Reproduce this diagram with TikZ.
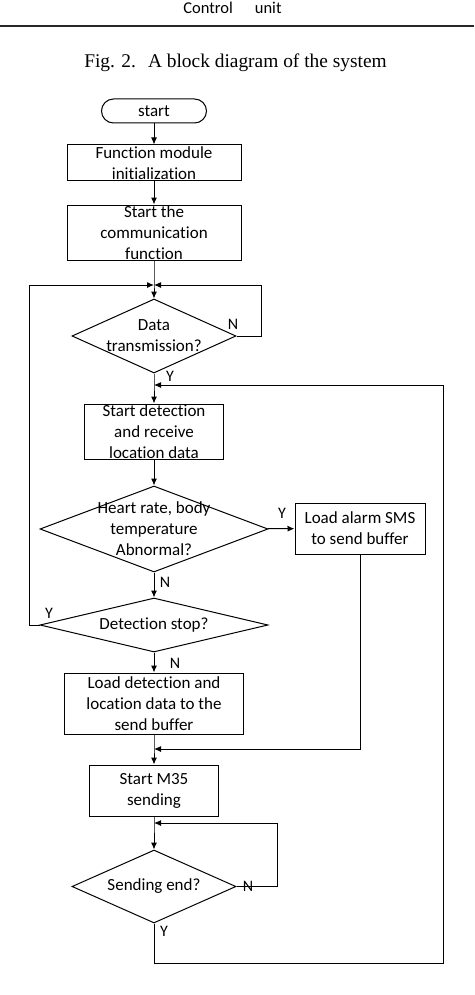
\documentclass[tikz,border=0pt]{standalone}
\usepackage{fontspec}
\setmainfont{Carlito}[Ligatures=NoCommon]
\newfontfamily\capfont{Liberation Serif}
\usetikzlibrary{shapes.geometric,arrows.meta}

\begin{document}
\begin{tikzpicture}[x=1pt,y=-1pt,
    blok/.style={draw,line width=1pt,inner sep=0pt},
    ruit/.style={draw,diamond,line width=1pt,inner sep=0pt},
    tekst/.style={align=center,inner sep=0pt,font=\fontsize{17}{21}\selectfont},
    lijn/.style={line width=1pt},
    pijl/.style={lijn,-{Latex[length=7pt,width=6pt]}},
    jn/.style={inner sep=0pt,font=\fontsize{16}{16}\selectfont}]
    \useasboundingbox (0,0) rectangle (474,995);
    % kop
    \node[font=\fontsize{16.5}{20}\selectfont] (ctrl) at (232.5,8) {Control\hspace{22pt}unit};
    \draw[line width=1.4pt,black!85] (0,26) -- (474,26);
    \node[font=\capfont\fontsize{19.4}{22}\selectfont] (cap) at (235.5,63) {Fig. 2.\hspace{12pt}A block diagram of the system};
    % blokken
    \node[blok,rounded corners=12pt,minimum width=105pt,minimum height=24pt,
        label={[tekst]center:start}] (start) at (154,111) {};
    \node[blok,minimum width=174pt,minimum height=36pt,
        label={[tekst]center:Function module\\initialization}] (init) at (154,163) {};
    \node[blok,minimum width=174pt,minimum height=55pt,
        label={[tekst]center:Start the\\communication\\function}] (comm) at (154,232.5) {};
    \node[ruit,minimum width=164pt,minimum height=74pt,
        label={[tekst]center:Data\\transmission?}] (data) at (154,336) {};
    \node[blok,minimum width=139pt,minimum height=55pt,
        label={[tekst]center:Start detection\\and receive\\location data}] (detect) at (154,431.5) {};
    \node[ruit,minimum width=228pt,minimum height=86pt,
        label={[tekst]center:Heart rate, body\\temperature\\Abnormal?}] (abn) at (154,529) {};
    \node[blok,minimum width=130pt,minimum height=51pt,
        label={[tekst]center:Load alarm SMS\\to send buffer}] (alarm) at (360,528.5) {};
    \node[ruit,minimum width=228pt,minimum height=54pt,
        label={[tekst]center:Detection stop?}] (stop) at (154,625) {};
    \node[blok,minimum width=179pt,minimum height=61pt,
        label={[tekst]center:Load detection and\\location data to the\\send buffer}] (load) at (154,703.5) {};
    \node[blok,minimum width=129pt,minimum height=51pt,
        label={[tekst]center:Start M35\\sending}] (m35) at (154,790.5) {};
    \node[ruit,minimum width=164pt,minimum height=73pt,
        label={[tekst]center:Sending end?}] (send) at (154,886.5) {};
    % knooppunten
    \coordinate (k1) at (154,285);
    \coordinate (k2) at (154,385);
    \coordinate (k3) at (154,749);
    \coordinate (k4) at (154,823);
    % pijlen
    \draw[pijl] (start) -- (init);
    \draw[pijl] (init) -- (comm);
    \draw[pijl] (comm.south) -- (k1) -- (data.north);
    \draw[pijl] (data.south) -- (k2) -- (detect.north);
    \draw[pijl] (detect) -- (abn);
    \draw[pijl] (abn) -- (alarm);
    \draw[pijl] (abn) -- (stop);
    \draw[pijl] (stop) -- (load);
    \draw[pijl] (load.south) -- (k3) -- (m35.north);
    \draw[pijl] (m35.south) -- (k4) -- (send.north);
    % lussen
    \draw[pijl] (data.east) -- (261,336) -- (261,285) -- (k1);
    \draw[pijl] (stop.west) -- (29,625) -- (29,285) -- (k1);
    \draw[pijl] (alarm.south) |- (k3);
    \draw[pijl] (send.east) -- (277,886.5) |- (k4);
    \draw[pijl] (send.south) -- (154,963) -- (443,963) |- (k2);
    % Y en N
    \node[jn] (n1) at (233,324) {N};
    \node[jn] (y1) at (170,376) {Y};
    \node[jn] (y2) at (282,513) {Y};
    \node[jn] (n2) at (165,582) {N};
    \node[jn] (y3) at (49,613) {Y};
    \node[jn] (n3) at (175,663) {N};
    \node[jn] (n4) at (248,886) {N};
    \node[jn] (y4) at (164,931) {Y};
\end{tikzpicture}
\end{document}
